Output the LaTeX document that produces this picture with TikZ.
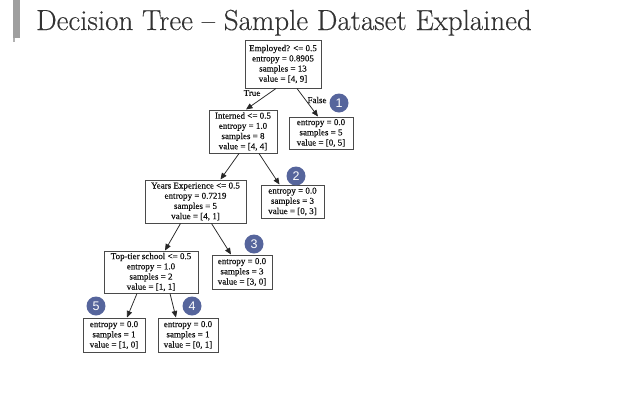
\documentclass[tikz,border=0pt]{standalone}
\usepackage{fontspec}
\setmainfont{Liberation Serif}
\newfontfamily\treefont[FakeBold=0.35]{Liberation Serif}
\newfontfamily\titlefont[FakeBold=0.25]{Latin Modern Roman}
\newfontfamily\badgefont{Liberation Sans}
\usetikzlibrary{calc,arrows.meta}
\definecolor{badgeblue}{HTML}{56659C}
\definecolor{boxline}{HTML}{4A4A4A}
\definecolor{txt}{HTML}{111111}
\begin{document}
\begin{tikzpicture}[x=1pt,y=-1pt,
  box/.style={draw=boxline, line width=1pt, align=center, inner sep=1pt,
    font=\treefont\fontsize{9}{10.2}\selectfont, text=txt},
  badge/.style={circle, fill=badgeblue, text=white, minimum size=19pt, inner sep=0pt,
    font=\badgefont\fontsize{12.5}{12.5}\selectfont},
  edge/.style={draw=black!85, line width=0.75pt, -{Triangle[length=6.5pt,width=5.5pt]}},
  elabel/.style={font=\treefont\fontsize{9}{9}\selectfont, text=txt, inner sep=1pt}]
\useasboundingbox (0,0) rectangle (638,405);
\fill[gray!75] (13,0) rectangle (20,38);
\fill[gray!60] (13,38) rectangle (14.5,42);
\node[anchor=base west, inner sep=0pt, text=black!80, font=\titlefont\fontsize{29}{29}\selectfont] (title) at (36,30) {Decision Tree – Sample Dataset Explained};

\node[box, minimum width=76pt, minimum height=48pt] (root) at (283,64) {Employed? <= 0.5\\entropy = 0.8905\\samples = 13\\value = [4, 9]};
\node[box, minimum width=68pt, minimum height=43pt] (int) at (243,131.5) {Interned <= 0.5\\entropy = 1.0\\samples = 8\\value = [4, 4]};
\node[box, minimum width=64pt, minimum height=32pt] (l1) at (321,133) {entropy = 0.0\\samples = 5\\value = [0, 5]};
\node[box, minimum width=101pt, minimum height=43pt] (yrs) at (195.5,201.5) {Years Experience <= 0.5\\entropy = 0.7219\\samples = 5\\value = [4, 1]};
\node[box, minimum width=63pt, minimum height=33pt] (l2) at (292.5,201.5) {entropy = 0.0\\samples = 3\\value = [0, 3]};
\node[box, minimum width=94pt, minimum height=42pt] (top) at (151,272) {Top-tier school <= 0.5\\entropy = 1.0\\samples = 2\\value = [1, 1]};
\node[box, minimum width=60pt, minimum height=34pt] (l3) at (242,272) {entropy = 0.0\\samples = 3\\value = [3, 0]};
\node[box, minimum width=62pt, minimum height=34pt] (l5) at (114,335) {entropy = 0.0\\samples = 1\\value = [1, 0]};
\node[box, minimum width=60pt, minimum height=34pt] (l4) at (188,335) {entropy = 0.0\\samples = 1\\value = [0, 1]};

\draw[edge] ($(root.south)+(-7,0)$) -- ($(int.north)+(3,0)$);
\draw[edge] ($(root.south)+(14,0)$) -- ($(l1.north)+(-3,0)$);
\draw[edge] ($(int.south)+(-4,0)$) -- ($(yrs.north)+(25,0)$);
\draw[edge] ($(int.south)+(16,0)$) -- ($(l2.north)+(-13,0)$);
\draw[edge] ($(yrs.south)+(-15,0)$) -- ($(top.north)+(14,0)$);
\draw[edge] ($(yrs.south)+(16,0)$) -- ($(l3.north)+(-11,0)$);
\draw[edge] ($(top.south)+(-14,0)$) -- ($(l5.north)+(13,0)$);
\draw[edge] ($(top.south)+(19,0)$) -- ($(l4.north)+(-12,0)$);

\node[elabel] (tlab) at (252,93) {True};
\node[elabel] (flab) at (317,100) {False};

\node[badge] (b1) at (339,103) {1};
\node[badge] (b2) at (296,176) {2};
\node[badge] (b3) at (254,244) {3};
\node[badge] (b5) at (96,306) {5};
\node[badge] (b4) at (192,306) {4};
\end{tikzpicture}
\end{document}
